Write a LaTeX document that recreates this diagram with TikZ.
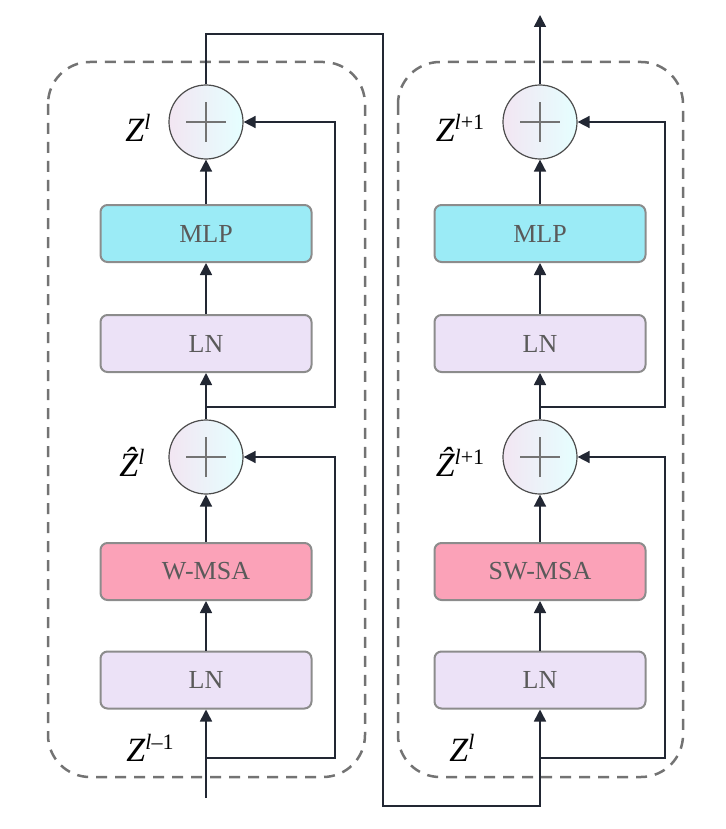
\documentclass[tikz,border=0pt]{standalone}
\usepackage{fontspec}
\setmainfont{Liberation Serif}
\usetikzlibrary{arrows.meta,shadings}
\definecolor{ln}{HTML}{ECE2F7}
\definecolor{mlp}{HTML}{9BEBF6}
\definecolor{msa}{HTML}{FBA2B8}
\definecolor{edgec}{HTML}{222733}
\definecolor{txt}{HTML}{5A5A5A}
\tikzset{
  blk/.style={draw=black!45,line width=2pt,rounded corners=7pt,minimum width=211pt,minimum height=57pt,font=\fontsize{26}{28}\selectfont,text=txt},
  plus/.style={circle,draw=black!70,line width=1.2pt,minimum size=74pt,left color=violet!10,right color=cyan!10,
    path picture={\draw[black!55,line width=2pt] (path picture bounding box.center) ++(-20pt,0)--++(40pt,0) (path picture bounding box.center) ++(0,-20pt)--++(0,40pt);}},
  grp/.style={draw=black!55,line width=2.5pt,dash pattern=on 11pt off 8pt,rounded corners=42pt},
  ar/.style={draw=edgec,line width=1.6pt,-{Triangle[length=12pt,width=12pt]}},
  ln/.style={draw=edgec,line width=1.6pt},
  lab/.style={font=\fontsize{34}{36}\selectfont\itshape}
}
\newcommand{\supx}[1]{\raisebox{12pt}{\fontsize{22}{24}\selectfont #1}}
\begin{document}
\begin{tikzpicture}[x=1pt,y=-1pt]
\useasboundingbox (0,0) rectangle (725,829);
\draw[grp] (48,62) rectangle (365,777);
\draw[grp] (398,62) rectangle (683,777);
% left column
\node[plus] (p1) at (206,122) {};
\node[blk,fill=mlp] (mlp1) at (206,233.5) {MLP};
\node[blk,fill=ln] (ln2) at (206,343.5) {LN};
\node[plus] (p2) at (206,457) {};
\node[blk,fill=msa] (msa1) at (206,571.5) {W-MSA};
\node[blk,fill=ln] (ln1) at (206,680) {LN};
% right column
\node[plus] (p3) at (540,122) {};
\node[blk,fill=mlp] (mlp2) at (540,233.5) {MLP};
\node[blk,fill=ln] (ln4) at (540,343.5) {LN};
\node[plus] (p4) at (540,457) {};
\node[blk,fill=msa] (msa2) at (540,571.5) {SW-MSA};
\node[blk,fill=ln] (ln3) at (540,680) {LN};
% labels
\node[lab] (l1) at (138,128) {Z\supx{l}};
\node[lab] (l2) at (132,462) {\^{Z}\supx{l}};
\node[lab] (l3) at (150,748) {Z\supx{l\upshape–1}};
\node[lab] (l4) at (460,128) {Z\supx{l\upshape+1}};
\node[lab] (l5) at (460,462) {\^{Z}\supx{l\upshape+1}};
\node[lab] (l6) at (462,748) {Z\supx{l}};
% coordinates
\coordinate (in) at (206,798);
\coordinate (b1) at (206,758);
\coordinate (c1) at (335,758);
\coordinate (b2) at (206,407);
\coordinate (c2) at (335,407);
\coordinate (t1) at (206,34);
\coordinate (t2) at (383,34);
\coordinate (t3) at (383,806);
\coordinate (t4) at (540,806);
\coordinate (b3) at (540,758);
\coordinate (c3) at (665,758);
\coordinate (b4) at (540,407);
\coordinate (c4) at (665,407);
\coordinate (out) at (540,15);
% left edges
\draw[ar] (in) -- (ln1);
\draw[ar] (ln1) -- (msa1);
\draw[ar] (msa1) -- (p2);
\draw[ar] (p2) -- (ln2);
\draw[ar] (ln2) -- (mlp1);
\draw[ar] (mlp1) -- (p1);
\draw[ar] (b1) -- (c1) |- (p2.east);
\draw[ar] (b2) -- (c2) |- (p1.east);
\draw[ar] (p1.north) -- (t1) -- (t2) -- (t3) -- (t4) -- (ln3.south);
% right edges
\draw[ar] (ln3) -- (msa2);
\draw[ar] (msa2) -- (p4);
\draw[ar] (p4) -- (ln4);
\draw[ar] (ln4) -- (mlp2);
\draw[ar] (mlp2) -- (p3);
\draw[ar] (b3) -- (c3) |- (p4.east);
\draw[ar] (b4) -- (c4) |- (p3.east);
\draw[ar] (p3) -- (out);
\end{tikzpicture}
\end{document}
